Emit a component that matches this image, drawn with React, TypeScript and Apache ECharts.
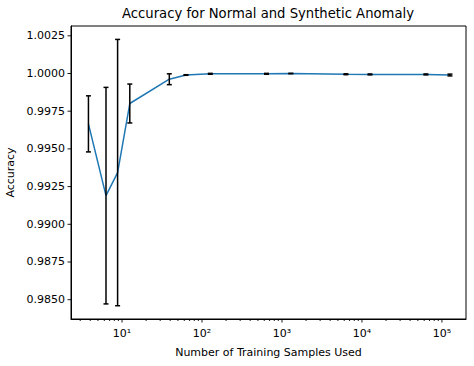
import React, { useEffect, useRef } from "react";
import * as echarts from "echarts";

const samples = [3.8, 6.3, 8.8, 12.5, 39, 63, 127, 640, 1290, 6300, 12600, 63000, 126000];
const means = [0.99666, 0.9919, 0.99343, 0.99801, 0.99962, 0.9999, 0.99998, 0.99998, 1.0, 0.99995, 0.99994, 0.99994, 0.9999];
const errs = [0.00186, 0.00718, 0.00883, 0.00129, 0.00036, 0.00002, 0.00003, 0.00003, 0.00001, 0.00003, 0.00003, 0.00003, 0.00006];
const xMajorTicks = [10, 100, 1000, 10000, 100000];
const xMajorLabels = ["10¹", "10²", "10³", "10⁴", "10⁵"];
const xMinorTicks: number[] = [];
[1, 10, 100, 1000, 10000, 100000].forEach((d) => {
  for (let k = 2; k <= 9; k++) {
    const v = k * d;
    if (v > 2.3 && v < 200000) xMinorTicks.push(v);
  }
});
const yTicks = [0.985, 0.9875, 0.99, 0.9925, 0.995, 0.9975, 1.0, 1.0025];

const FONT = "DejaVu Sans";
const X_MIN = 2.3;
const X_MAX = 200000;
const Y_MIN = 0.98372;
const Y_MAX = 1.00315;

export default function App() {
  const ref = useRef<HTMLDivElement>(null);
  useEffect(() => {
    document.body.style.margin = "0";
    if (!ref.current) return;
    const chart = echarts.init(ref.current, undefined, { renderer: "svg" });
    const lineData = samples.map((s, i) => [s, means[i]]);
    const errData = samples.map((s, i) => [s, means[i] - errs[i], means[i] + errs[i]]);
    const tickData = [
      ...xMajorTicks.map((v) => [v, Y_MIN, 0, 3.5]),
      ...xMinorTicks.map((v) => [v, Y_MIN, 0, 2]),
      ...yTicks.map((v) => [X_MIN, v, 1, 3.5]),
    ];
    chart.setOption({
      animation: false,
      backgroundColor: "#fff",
      title: {
        text: "Accuracy for Normal and Synthetic Anomaly",
        left: 268,
        textAlign: "center",
        top: 7,
        padding: 0,
        textStyle: { fontFamily: FONT, fontSize: 13.2, fontWeight: "normal", color: "#000" },
      },
      grid: { left: 71, right: 8, top: 26, bottom: 47, containLabel: false, outerBoundsMode: "none" },
      xAxis: {
        type: "log",
        logBase: 10,
        min: X_MIN,
        max: X_MAX,
        name: "Number of Training Samples Used",
        nameLocation: "middle",
        nameGap: 28,
        nameTextStyle: { fontFamily: FONT, fontSize: 11, color: "#000" },
        axisLine: { show: true, lineStyle: { color: "#000", width: 1 } },
        axisTick: { show: false },
        axisLabel: {
          customValues: xMajorTicks,
          fontFamily: FONT,
          fontSize: 11,
          color: "#000",
          margin: 9,
          formatter: (v: number) => {
            const i = xMajorTicks.findIndex((t) => Math.abs(t - v) / t < 1e-6);
            return i >= 0 ? xMajorLabels[i] : "";
          },
        },
        splitLine: { show: false },
      },
      yAxis: {
        type: "value",
        min: Y_MIN,
        max: Y_MAX,
        name: "Accuracy",
        nameLocation: "middle",
        nameGap: 52,
        nameTextStyle: { fontFamily: FONT, fontSize: 11, color: "#000" },
        axisLine: { show: true, lineStyle: { color: "#000", width: 1 } },
        axisTick: { show: false },
        axisLabel: {
          customValues: yTicks,
          fontFamily: FONT,
          fontSize: 11,
          color: "#000",
          margin: 6,
          formatter: (v: number) => v.toFixed(4),
        },
        splitLine: { show: false },
      },
      series: [
        {
          type: "line",
          data: lineData,
          showSymbol: false,
          symbol: "none",
          lineStyle: { color: "#1f77b4", width: 1.5 },
          z: 2,
        },
        {
          type: "custom",
          data: errData,
          z: 3,
          renderItem: (params: any, api: any) => {
            const x = api.value(0);
            const lo = api.coord([x, api.value(1)]);
            const hi = api.coord([x, api.value(2)]);
            const cw = 2.5;
            const style = { stroke: "#000", lineWidth: 1.5, fill: null };
            return {
              type: "group",
              children: [
                { type: "line", shape: { x1: lo[0], y1: lo[1], x2: hi[0], y2: hi[1] }, style },
                { type: "line", shape: { x1: lo[0] - cw, y1: lo[1], x2: lo[0] + cw, y2: lo[1] }, style },
                { type: "line", shape: { x1: hi[0] - cw, y1: hi[1], x2: hi[0] + cw, y2: hi[1] }, style },
              ],
            };
          },
        },
        {
          type: "custom",
          data: tickData,
          clip: false,
          silent: true,
          z: 4,
          renderItem: (params: any, api: any) => {
            const p = api.coord([api.value(0), api.value(1)]);
            const vertical = api.value(2) === 0;
            const len = api.value(3);
            const style = { stroke: "#000", lineWidth: 0.9, fill: null };
            return vertical
              ? { type: "line", shape: { x1: p[0], y1: p[1], x2: p[0], y2: p[1] + len }, style }
              : { type: "line", shape: { x1: p[0] - len, y1: p[1], x2: p[0], y2: p[1] }, style };
          },
        },
      ],
      graphic: [
        {
          type: "rect",
          shape: { x: 71, y: 26, width: 395, height: 293 },
          style: { fill: "none", stroke: "#000", lineWidth: 1 },
          silent: true,
          z: 0,
        },
      ],
    });
    return () => chart.dispose();
  }, []);
  return <div ref={ref} style={{ width: 474, height: 366 }} />;
}
